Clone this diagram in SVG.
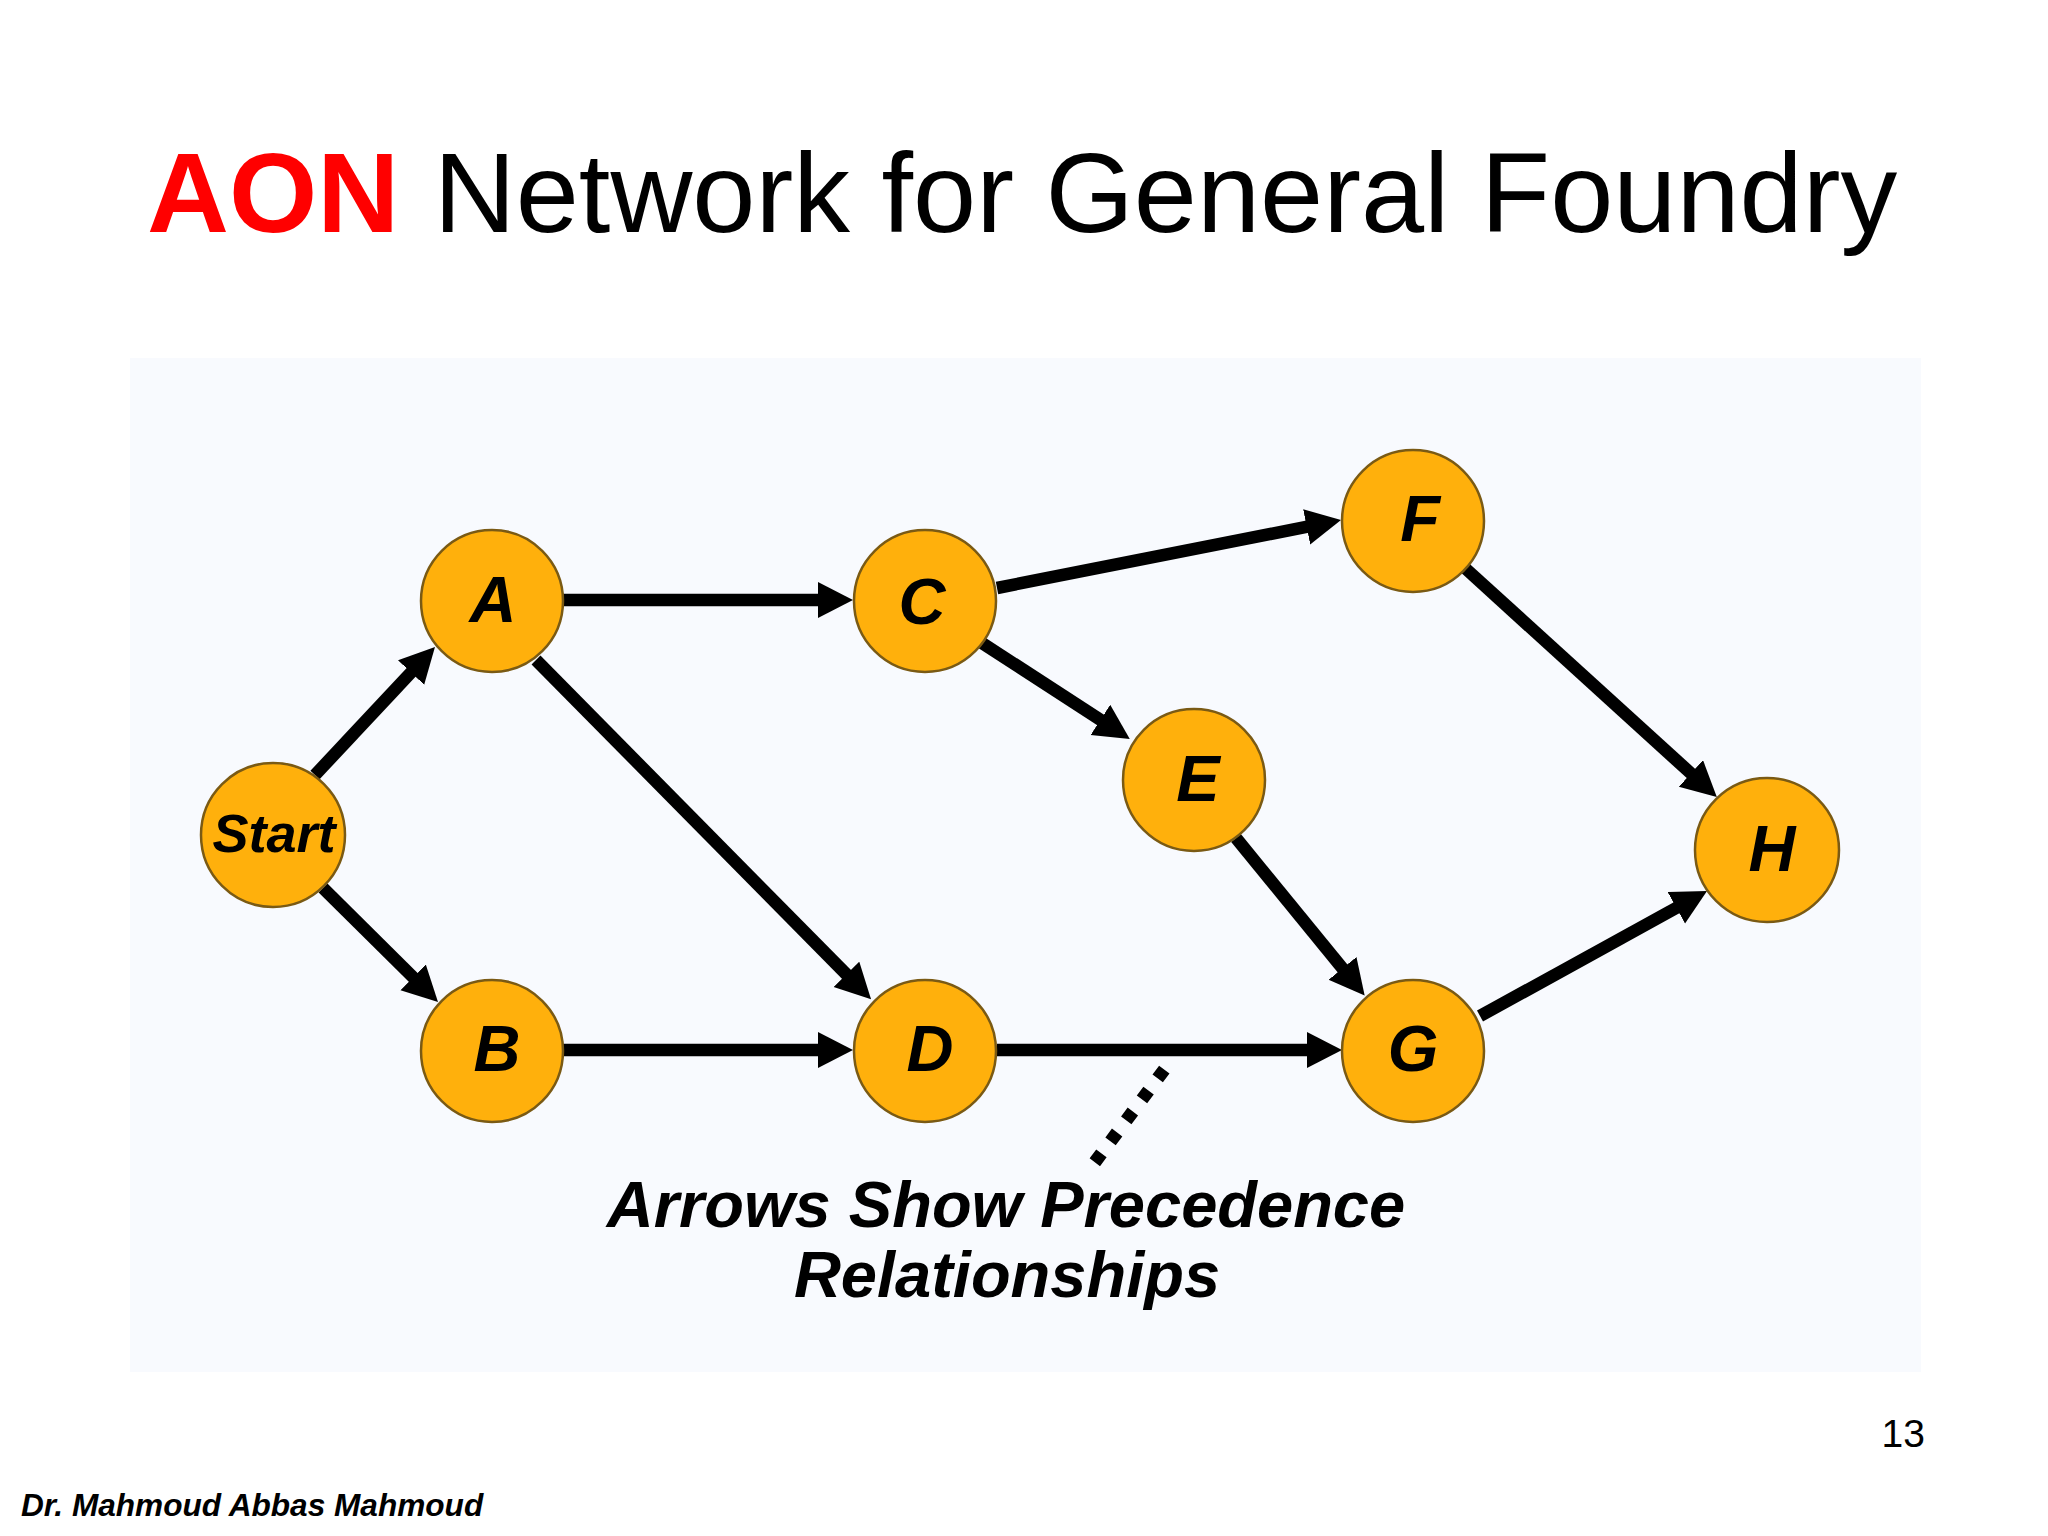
<svg xmlns="http://www.w3.org/2000/svg" width="2048" height="1536" viewBox="0 0 2048 1536">
<defs>
<style>
text{font-family:"Liberation Sans",Arial,sans-serif;fill:#000}
.n{fill:#ffb00c;stroke:#7a5a14;stroke-width:2.5}
.l{font-weight:700;font-style:italic;font-size:65px;text-anchor:middle}
.c{stroke:#000;stroke-width:12.5;fill:none;marker-end:url(#h)}
.note{font-weight:700;font-style:italic;font-size:65px;text-anchor:middle}
</style>
<marker id="h" markerUnits="userSpaceOnUse" markerWidth="44" markerHeight="44" refX="15" refY="18" orient="auto"><path d="M0 0L35 18L0 36Z" fill="#000"/></marker>
</defs>
<rect width="2048" height="1536" fill="#fff"/>
<rect id="panel" x="130" y="358" width="1791" height="1014" fill="#f8fafe"/>
<text id="title" x="147" y="232" font-size="113.5"><tspan fill="#ff0000" font-weight="700">AON</tspan><tspan dx="3"> Network for General Foundry</tspan></text>
<g id="connectors">
<line class="c" x1="315" y1="775" x2="421.3" y2="661.6"/>
<line class="c" x1="323" y1="888" x2="423.8" y2="987.9"/>
<line class="c" x1="563" y1="600" x2="833" y2="600"/>
<line class="c" x1="536" y1="660" x2="857" y2="985"/>
<line class="c" x1="563" y1="1050" x2="833" y2="1050"/>
<line class="c" x1="997" y1="588" x2="1321.4" y2="523.9"/>
<line class="c" x1="982" y1="643" x2="1113" y2="728"/>
<line class="c" x1="1236" y1="838" x2="1352" y2="980"/>
<line class="c" x1="997" y1="1050" x2="1322" y2="1050"/>
<line class="c" x1="1465" y1="568" x2="1702" y2="783.5"/>
<line class="c" x1="1480" y1="1016" x2="1689.5" y2="900.6"/>
<line id="pointer" x1="1164.3" y1="1069.6" x2="1094.7" y2="1162.4" stroke="#000" stroke-width="13" stroke-dasharray="11 15.2" fill="none"/>
</g>
<g id="node-start"><circle class="n" cx="273" cy="835" r="72"/><text class="l" x="274" y="852" style="font-size:54px">Start</text></g>
<g id="node-a"><circle class="n" cx="492" cy="601" r="71"/><text class="l" x="493" y="622">A</text></g>
<g id="node-b"><circle class="n" cx="492" cy="1051" r="71"/><text class="l" x="497" y="1071">B</text></g>
<g id="node-c"><circle class="n" cx="925" cy="601" r="71"/><text class="l" x="922" y="624">C</text></g>
<g id="node-d"><circle class="n" cx="925" cy="1051" r="71"/><text class="l" x="930" y="1071">D</text></g>
<g id="node-e"><circle class="n" cx="1194" cy="780" r="71"/><text class="l" x="1198" y="801">E</text></g>
<g id="node-f"><circle class="n" cx="1413" cy="521" r="71"/><text class="l" x="1420" y="541">F</text></g>
<g id="node-g"><circle class="n" cx="1413" cy="1051" r="71"/><text class="l" x="1413" y="1071">G</text></g>
<g id="node-h"><circle class="n" cx="1767" cy="850" r="72"/><text class="l" x="1772" y="871">H</text></g>
<text class="note" x="1006" y="1227">Arrows Show Precedence</text>
<text class="note" x="1007" y="1297">Relationships</text>
<text id="page" x="1925" y="1447" font-size="39" text-anchor="end">13</text>
<text id="author" x="21" y="1516" font-size="31.6" font-weight="700" font-style="italic">Dr. Mahmoud Abbas Mahmoud</text>
</svg>
